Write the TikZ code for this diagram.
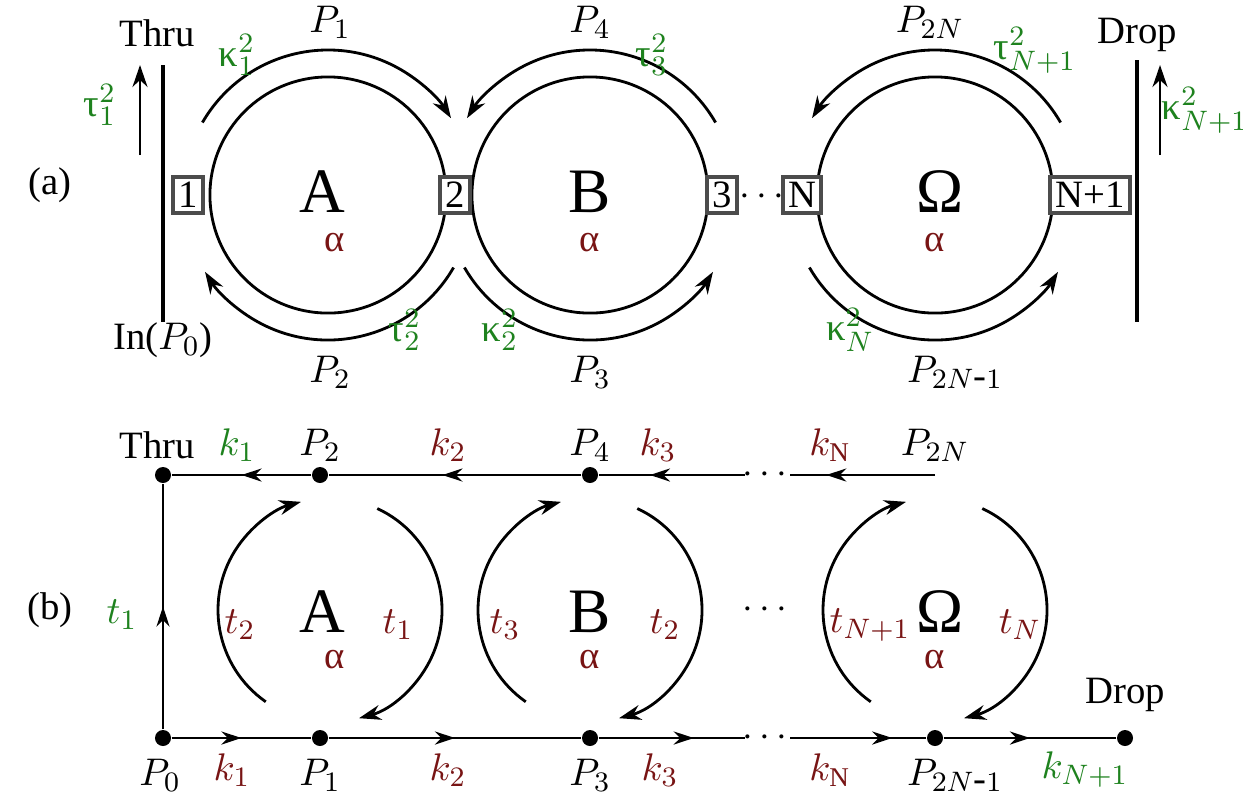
\documentclass[tikz,border=0pt]{standalone}
\usepackage{fontspec}
\setmainfont{Liberation Serif}
\usetikzlibrary{arrows.meta}
\usetikzlibrary{positioning}
\usetikzlibrary{decorations.markings}
\definecolor{kgreen}{RGB}{30,130,30}
\definecolor{kred}{RGB}{120,20,20}
\begin{document}
\begin{tikzpicture}[x=0.01cm,y=0.01cm,
ring/.style={circle, draw=black, thick, minimum size=2.36cm, inner sep=0pt},
port/.style={rectangle, draw=black!70, very thick, fill=white, inner sep=1.5pt, font=\fontsize{11}{12}\selectfont},
dot/.style={circle, fill=black, minimum size=0.16cm, inner sep=0pt},
lbl/.style={font=\fontsize{11}{12}\selectfont},
big/.style={font=\fontsize{18}{20}\selectfont},
grn/.style={lbl, text=kgreen},
red/.style={lbl, text=kred},
flow/.style={thick, -{Stealth[length=0.22cm,width=0.15cm]}},
mid/.style={thick, decoration={markings, mark=at position #1 with {\arrow{Stealth[length=0.2cm,width=0.13cm]}}}, postaction={decorate}},
]
\useasboundingbox (0,0) rectangle (1243,-805);

% (a)
\node[lbl] at (50,-185) {(a)};
\node[ring] (rA) at (328,-195) {};
\node[ring] (rB) at (590,-195) {};
\node[ring] (rW) at (935,-195) {};
\node[big] at (322,-192) {A};
\node[big] at (590,-192) {B};
\node[big] at (940,-192) {Ω};
\foreach \x in {335,590,935} \node[red] at (\x,-243) {α};
\coordinate (busLt) at (163,-65);
\coordinate (busLb) at (163,-322);
\coordinate (busRt) at (1137,-60);
\coordinate (busRb) at (1137,-322);
\draw[very thick] (busLt) -- (busLb);
\draw[very thick] (busRt) -- (busRb);
\node[port] (p1) at (188,-195) {1};
\node[port] (p2) at (455,-195) {2};
\node[port] (p3) at (722,-195) {3};
\node[port] (pN) at (802,-195) {N};
\node[port] (pN1) at (1090,-195) {N+1};
\node[lbl] at (762,-197) {$\cdots$};
\draw[flow] (328,-195) ++(150:145) arc[start angle=150,end angle=32,radius=145];
\draw[flow] (328,-195) ++(-30:145) arc[start angle=-30,end angle=-148,radius=145];
\draw[flow] (590,-195) ++(30:145) arc[start angle=30,end angle=148,radius=145];
\draw[flow] (590,-195) ++(-150:145) arc[start angle=-150,end angle=-32,radius=145];
\draw[flow] (935,-195) ++(30:145) arc[start angle=30,end angle=148,radius=145];
\draw[flow] (935,-195) ++(-150:145) arc[start angle=-150,end angle=-32,radius=145];
\coordinate (tauA) at (140,-155);
\coordinate (tauB) at (140,-65);
\coordinate (kapA) at (1160,-155);
\coordinate (kapB) at (1160,-65);
\draw[flow] (tauA) -- (tauB);
\draw[flow] (kapA) -- (kapB);
\node[lbl] at (157,-33) {Thru};
\node[lbl] at (163,-340) {In($P_0$)};
\node[lbl] at (1137,-35) {Drop};
\node[grn] at (100,-105) {τ$_1^2$};
\node[grn] at (1205,-110) {κ$^2_{N+1}$};
\node[lbl] at (330,-22) {$P_1$};
\node[grn] at (237,-55) {κ$_1^2$};
\node[lbl] at (590,-22) {$P_4$};
\node[grn] at (652,-55) {τ$_3^2$};
\node[lbl] at (930,-22) {$P_{2N}$};
\node[grn] at (1035,-50) {τ$^2_{N+1}$};
\node[lbl] at (330,-372) {$P_2$};
\node[grn] at (405,-330) {τ$_2^2$};
\node[grn] at (500,-330) {κ$_2^2$};
\node[lbl] at (590,-372) {$P_3$};
\node[grn] at (850,-330) {κ$_N^2$};
\node[lbl] at (955,-372) {$P_{2N\mbox{-}1}$};

% (b)
\node[lbl] at (50,-610) {(b)};
\node[dot] (t0) at (163,-475) {};
\node[dot] (t2) at (320,-475) {};
\node[dot] (t4) at (590,-475) {};
\coordinate (tg1) at (745,-475);
\coordinate (tg2) at (790,-475);
\coordinate (tN) at (935,-475);
\node[dot] (b0) at (163,-738) {};
\node[dot] (b1) at (320,-738) {};
\node[dot] (b3) at (590,-738) {};
\coordinate (bg1) at (745,-738);
\coordinate (bg2) at (790,-738);
\node[dot] (bN) at (935,-738) {};
\node[dot] (drop) at (1125,-738) {};
\draw[mid=0.5] (b0) -- (t0);
\draw[mid=0.5] (t2) -- (t0);
\draw[mid=0.55] (t4) -- (t2);
\draw[mid=0.65] (tg1) -- (t4);
\draw[mid=0.75] (tN) -- (tg2);
\draw[mid=0.5] (b0) -- (b1);
\draw[mid=0.5] (b1) -- (b3);
\draw[mid=0.65] (b3) -- (bg1);
\draw[mid=0.75] (bg2) -- (bN);
\draw[mid=0.5] (bN) -- (drop);
\node[lbl] at (765,-475) {$\cdots$};
\node[lbl] at (765,-738) {$\cdots$};
\node[lbl] at (765,-610) {$\cdots$};
\foreach \x in {330,590,935} {
  \draw[flow] (\x,-610) ++(235:112) arc[start angle=235,end angle=105,radius=112];
  \draw[flow] (\x,-610) ++(65:112) arc[start angle=65,end angle=-75,radius=112];
}
\node[big] at (322,-612) {A};
\node[big] at (590,-612) {B};
\node[big] at (940,-612) {Ω};
\foreach \x in {335,590,935} \node[red] at (\x,-660) {α};
\node[lbl] at (157,-445) {Thru};
\node[grn] at (237,-445) {$k_1$};
\node[lbl] at (320,-445) {$P_2$};
\node[red] at (448,-445) {$k_2$};
\node[lbl] at (590,-445) {$P_4$};
\node[red] at (658,-445) {$k_3$};
\node[red] at (830,-445) {$k_{\mathrm N}$};
\node[lbl] at (935,-445) {$P_{2N}$};
\node[grn] at (122,-615) {$t_1$};
\node[red] at (240,-625) {$t_2$};
\node[red] at (398,-625) {$t_1$};
\node[red] at (505,-625) {$t_3$};
\node[red] at (665,-625) {$t_2$};
\node[red] at (870,-625) {$t_{N+1}$};
\node[red] at (1020,-625) {$t_N$};
\node[lbl] at (160,-775) {$P_0$};
\node[red] at (232,-770) {$k_1$};
\node[lbl] at (320,-775) {$P_1$};
\node[red] at (448,-770) {$k_2$};
\node[lbl] at (590,-775) {$P_3$};
\node[red] at (660,-770) {$k_3$};
\node[red] at (830,-770) {$k_{\mathrm N}$};
\node[lbl] at (955,-775) {$P_{2N\mbox{-}1}$};
\node[grn] at (1085,-770) {$k_{N+1}$};
\node[lbl] at (1125,-695) {Drop};
\end{tikzpicture}
\end{document}
